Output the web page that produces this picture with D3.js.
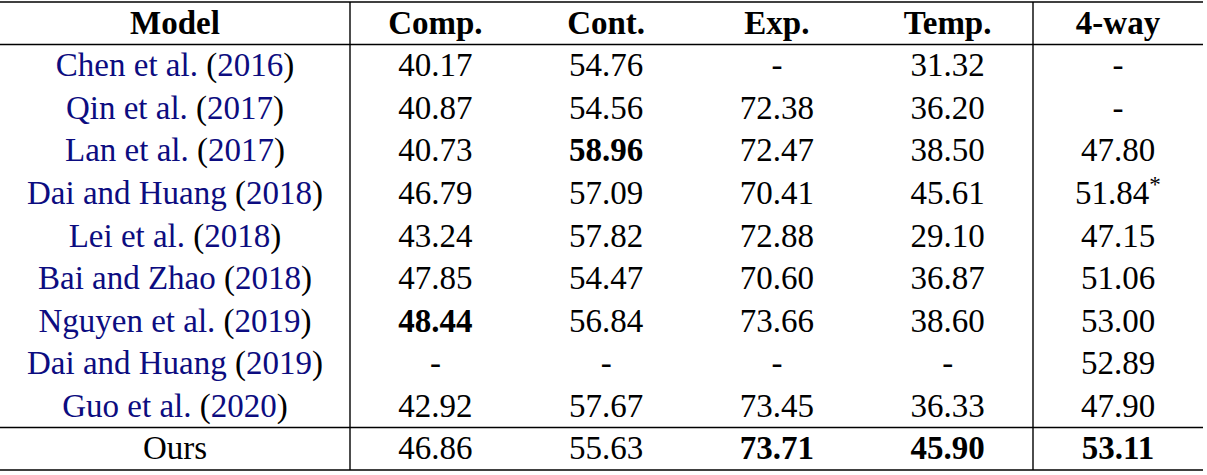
<!DOCTYPE html>
<html lang="en">
<head>
  <meta charset="UTF-8">
  <title>Results table</title>
  <script src="https://d3js.org/d3.v7.min.js"></script>
  <style>
    body { margin: 0; background: #fff; }
    svg { display: block; }
    text, tspan { font-family: "Liberation Serif", "DejaVu Serif", serif; }
  </style>
</head>
<body>
  <svg width="1207" height="475"></svg>

  <script>
    // Table content
    const authors = ["Chen et al.", "Qin et al.", "Lan et al.", "Dai and Huang", "Lei et al.",
                     "Bai and Zhao", "Nguyen et al.", "Dai and Huang", "Guo et al."];
    const years = ["2016", "2017", "2017", "2018", "2018", "2018", "2019", "2019", "2020"];
    const columns = ["Comp.", "Cont.", "Exp.", "Temp.", "4-way"];

    // null = "-" in the table; last entry of each list is "Ours"
    const comp  = [40.17, 40.87, 40.73, 46.79, 43.24, 47.85, 48.44, null, 42.92, 46.86];
    const cont  = [54.76, 54.56, 58.96, 57.09, 57.82, 54.47, 56.84, null, 57.67, 55.63];
    const exp   = [null, 72.38, 72.47, 70.41, 72.88, 70.60, 73.66, null, 73.45, 73.71];
    const temp  = [31.32, 36.20, 38.50, 45.61, 29.10, 36.87, 38.60, null, 36.33, 45.90];
    const fourWay = [null, null, 47.80, 51.84, 47.15, 51.06, 53.00, 52.89, 47.90, 53.11];
    const starred = ["Dai and Huang (2018)|4-way"]; // footnote marker

    const svg = d3.select("svg");
    const tLeft = 0, tRight = 1203, tTop = 2, tBottom = 470;
    const modelEdge = 350, lastEdge = 1033;
    const fontSize = 33;
    const serif = '"Liberation Serif", "DejaVu Serif", serif';
    const citeColor = "#0c0c80";

    const rowKeys = ["header"].concat(authors.map((a, i) => `${a} (${years[i]})`), ["Ours"]);
    const y = d3.scaleBand().domain(rowKeys).range([tTop, tBottom]);
    const xMid = d3.scaleBand().domain(columns.slice(0, 4)).range([modelEdge, lastEdge]);
    const colCenter = c => c === "4-way" ? (lastEdge + tRight) / 2 : xMid(c) + xMid.bandwidth() / 2;
    const baseline = k => y(k) + y.bandwidth() / 2 + 10.5;

    const series = { "Comp.": comp, "Cont.": cont, "Exp.": exp, "Temp.": temp, "4-way": fourWay };

    // rules
    const hLines = [tTop, y(rowKeys[1]), y("Ours"), tBottom];
    svg.selectAll("line.h").data(hLines).enter().append("line")
      .attr("class", "h")
      .attr("x1", tLeft).attr("x2", tRight)
      .attr("y1", d => d).attr("y2", d => d)
      .attr("stroke", "#000").attr("stroke-width", 1.4);
    svg.selectAll("line.v").data([modelEdge, lastEdge]).enter().append("line")
      .attr("class", "v")
      .attr("x1", d => d).attr("x2", d => d)
      .attr("y1", tTop).attr("y2", tBottom)
      .attr("stroke", "#000").attr("stroke-width", 1.4);

    // header
    svg.selectAll("text.head").data(["Model"].concat(columns)).enter().append("text")
      .attr("class", "head")
      .attr("x", d => d === "Model" ? modelEdge / 2 : colCenter(d))
      .attr("y", baseline("header"))
      .attr("text-anchor", "middle")
      .style("font-family", serif)
      .attr("font-size", fontSize)
      .attr("font-weight", "bold")
      .text(d => d);

    // model names (author + year in cite colour, brackets in black)
    const names = svg.selectAll("text.model").data(authors).enter().append("text")
      .attr("class", "model")
      .attr("x", modelEdge / 2)
      .attr("y", (d, i) => baseline(rowKeys[i + 1]))
      .attr("text-anchor", "middle")
      .style("font-family", serif)
      .attr("font-size", fontSize);
    names.append("tspan").style("font-family", serif).attr("fill", citeColor).text(d => d + " ");
    names.append("tspan").style("font-family", serif).attr("fill", "#000").text("(");
    names.append("tspan").style("font-family", serif).attr("fill", citeColor).text((d, i) => years[i]);
    names.append("tspan").style("font-family", serif).attr("fill", "#000").text(")");

    svg.append("text")
      .attr("x", modelEdge / 2)
      .attr("y", baseline("Ours"))
      .attr("text-anchor", "middle")
      .style("font-family", serif)
      .attr("font-size", fontSize)
      .text("Ours");

    // numbers, best per column in bold
    columns.forEach(c => {
      const vals = series[c];
      const best = d3.max(vals);
      const cells = svg.selectAll(null).data(vals).enter().append("text")
        .attr("x", colCenter(c))
        .attr("y", (d, i) => baseline(rowKeys[i + 1]))
        .attr("text-anchor", "middle")
        .style("font-family", serif)
        .attr("font-size", fontSize)
        .attr("font-weight", d => d === best ? "bold" : "normal");
      cells.append("tspan").style("font-family", serif).text(d => d === null ? "-" : d.toFixed(2));
      cells.filter((d, i) => starred.includes(`${rowKeys[i + 1]}|${c}`))
        .append("tspan")
        .style("font-family", serif)
        .attr("font-size", fontSize * 0.7)
        .attr("dy", -12)
        .text("*");
    });
  </script>
</body>
</html>
